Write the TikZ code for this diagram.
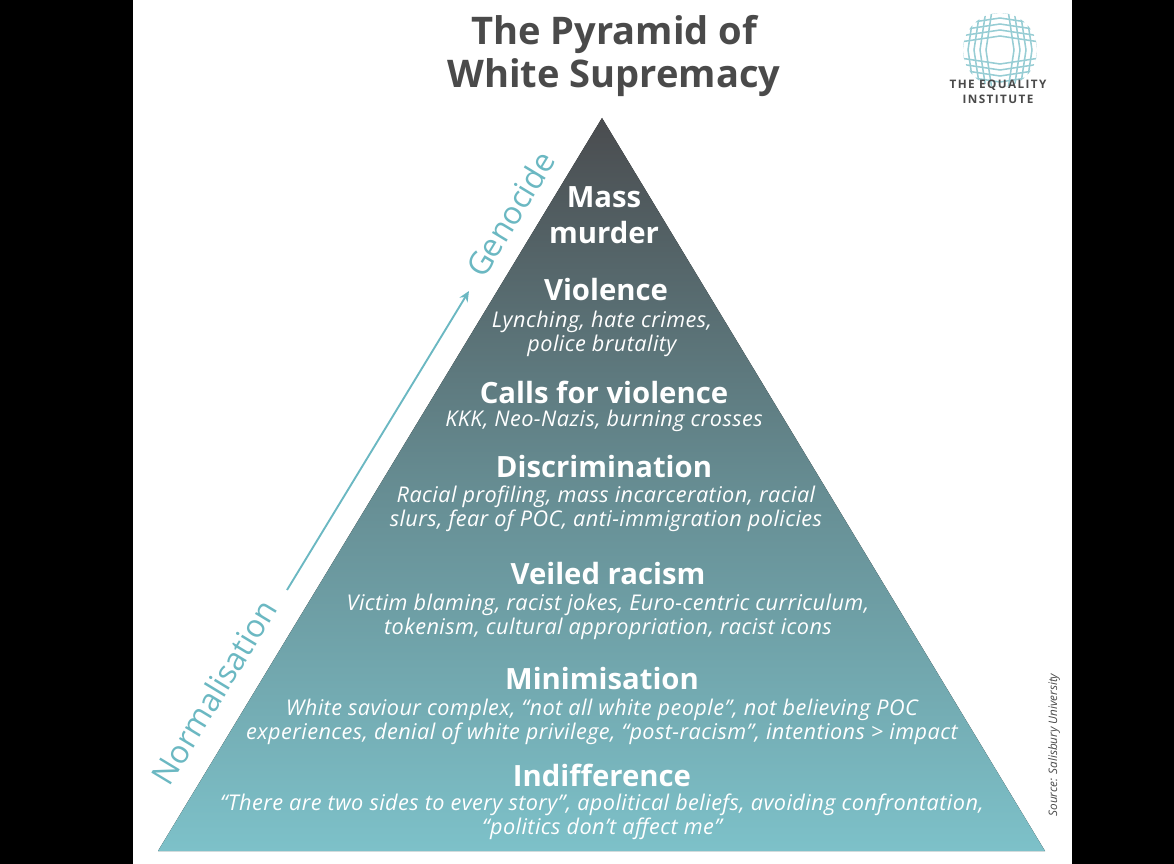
\documentclass[tikz,border=0pt]{standalone}
\usepackage{fontspec}
\setmainfont{Open Sans}
\usetikzlibrary{arrows.meta}
\definecolor{apex}{HTML}{4A4C4F}
\definecolor{base}{HTML}{7DC1C9}
\definecolor{teal}{HTML}{6BB8C2}
\definecolor{ink}{HTML}{4A4A4A}
\tikzset{
  level/.style={white,font=\fontsize{25}{27}\selectfont\bfseries},
  detail/.style={white,font=\fontsize{18.5}{20.4}\selectfont\itshape\addfontfeatures{LetterSpace=2},align=center},
  side/.style={teal,font=\fontsize{27}{29}\selectfont,rotate=58.8}
}
\begin{document}
\begin{tikzpicture}[x=0.3mm,y=-0.3mm]
  \fill[black] (0,0) rectangle (1174,864);
  \fill[white] (133,0) rectangle (1072,864);
  \useasboundingbox (0,0) rectangle (1174,864);
  % title
  \node (title) [ink,align=center,font=\fontsize{32.5}{37}\selectfont\bfseries] at (614,56) {The Pyramid of\\White Supremacy};
  % pyramid
  \fill[top color=apex,bottom color=base,middle color=apex!45!base] (602,118) -- (1045,851) -- (158,851) -- cycle;
  \node (mass) [level,align=center,font=\fontsize{25}{31}\selectfont\bfseries] at (604,215) {Mass\\murder};
  \node (viol) [level] at (606,290) {Violence};
  \node (violx) [detail] at (602,334) {Lynching, hate crimes,\\police brutality};
  \node (calls) [level] at (604,392) {Calls for violence};
  \node (callsx) [detail] at (604,421) {KKK, Neo-Nazis, burning crosses};
  \node (disc) [level] at (604,467) {Discrimination};
  \node (discx) [detail] at (606,509) {Racial profiling, mass incarceration, racial\\slurs, fear of POC, anti-immigration policies};
  \node (veil) [level] at (608,574) {Veiled racism};
  \node (veilx) [detail] at (608,617) {Victim blaming, racist jokes, Euro-centric curriculum,\\tokenism, cultural appropriation, racist icons};
  \node (mini) [level] at (602,679) {Minimisation};
  \node (minix) [detail] at (602,722) {White saviour complex, ``not all white people'', not believing POC\\experiences, denial of white privilege, ``post-racism'', intentions > impact};
  \node (indi) [level] at (602,775) {Indifference};
  \node (indix) [detail] at (602,817) {``There are two sides to every story'', apolitical beliefs, avoiding confrontation,\\``politics don't affect me''};
  % side labels
  \node (norm) [side] at (214,692) {Normalisation};
  \node (geno) [side] at (510,214) {Genocide};
  \coordinate (up0) at (287,590);
  \coordinate (up1) at (469,291);
  \draw[teal,line width=1.6pt,-{Stealth[length=9pt,width=8pt]}] (up0) -- (up1);
  \node (src) [ink,rotate=90,font=\fontsize{10}{12}\selectfont\itshape] at (1054,745) {Source: Salisbury University};
  % logo
  \begin{scope}[shift={(1000,50)}]
    \clip (0,0) circle (37) (0,0) circle (14);
    \foreach \a in {0,90,180,270}
      \foreach \k in {0,...,5}
        \draw[teal!70,line width=1.3pt,rotate=\a] (-40,-8-6*\k) -- (0,-14-6*\k) -- (40,-8-6*\k);
  \end{scope}
  \node (logo) [ink,align=center,font=\fontsize{10}{13}\selectfont\bfseries\addfontfeatures{LetterSpace=12}] at (998,92) {THE EQUALITY\\INSTITUTE};
\end{tikzpicture}
\end{document}
